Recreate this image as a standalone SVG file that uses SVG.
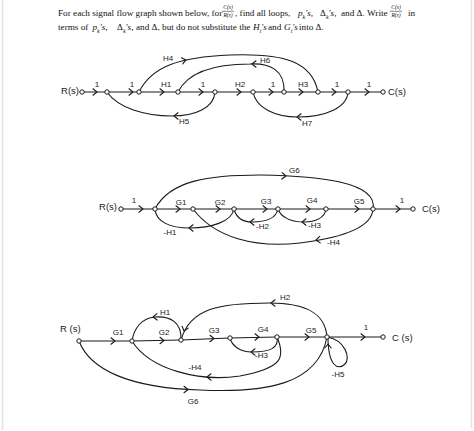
<svg xmlns="http://www.w3.org/2000/svg" width="474" height="431" viewBox="0 0 474 431">
<style>
.ln{fill:none;stroke:#1a1a1a;stroke-width:1.1;stroke-linecap:round;stroke-linejoin:round}
.nd{fill:#fff;stroke:#1a1a1a;stroke-width:1}
.lb{font-family:"Liberation Sans",Arial,sans-serif;font-size:8px;fill:#1a1a1a}
.io{font-family:"Liberation Sans",Arial,sans-serif;font-size:9.5px;fill:#1a1a1a}
.hd{font-family:"Liberation Serif","Times New Roman",serif;font-size:9.2px;fill:#111}
.fr{font-family:"Liberation Serif","Times New Roman",serif;font-size:5.5px;fill:#111;font-style:italic}
.it{font-style:italic}
.bd{stroke:#e3e3e3;stroke-width:1.5}
</style>
<defs>
<path id="ar" d="M-4,-3.2 L0,0 L-4,3.2" fill="none" stroke="#1a1a1a" stroke-width="1.1" stroke-linecap="round" stroke-linejoin="round"/>
</defs>
<rect width="474" height="431" fill="#fff"/>
<line class="bd" x1="2.5" y1="0" x2="2.5" y2="430"/>
<line class="bd" x1="471.5" y1="0" x2="471.5" y2="428"/>

<g id="header">
<text class="hd" x="58" y="16">For each signal flow graph shown below, for</text>
<text class="fr" x="228" y="9" text-anchor="middle">C(s)</text>
<line x1="222" y1="11.3" x2="234" y2="11.3" stroke="#111" stroke-width="0.5"/>
<text class="fr" x="228" y="17" text-anchor="middle">R(s)</text>
<text class="hd" x="235" y="16">, find all loops,</text>
<text class="hd" x="298" y="16"><tspan class="it">p</tspan><tspan font-size="6" class="it" dy="2.5">k</tspan><tspan class="it" dy="-2.5">'s,</tspan></text>
<text class="hd" x="320" y="16">Δ<tspan font-size="6" class="it" dy="2.5">k</tspan><tspan class="it" dy="-2.5">'s,</tspan></text>
<text class="hd" x="341" y="16">and Δ. Write</text>
<text class="fr" x="396" y="9" text-anchor="middle">C(s)</text>
<line x1="390" y1="11.3" x2="402" y2="11.3" stroke="#111" stroke-width="0.5"/>
<text class="fr" x="396" y="17" text-anchor="middle">R(s)</text>
<text class="hd" x="408" y="16">in</text>
<text class="hd" x="58" y="30">terms of</text>
<text class="hd" x="92.5" y="30"><tspan class="it">p</tspan><tspan font-size="6" class="it" dy="2.5">k</tspan><tspan class="it" dy="-2.5">'s,</tspan></text>
<text class="hd" x="117" y="30">Δ<tspan font-size="6" class="it" dy="2.5">k</tspan><tspan class="it" dy="-2.5">'s,</tspan></text>
<text class="hd" x="136" y="30">and Δ, but do not substitute the</text>
<text class="hd" x="253" y="30"><tspan class="it">H</tspan><tspan font-size="6" class="it" dy="2.5">i</tspan><tspan class="it" dy="-2.5">'s</tspan></text>
<text class="hd" x="268" y="30">and</text>
<text class="hd" x="284" y="30"><tspan class="it">G</tspan><tspan font-size="6" class="it" dy="2.5">i</tspan><tspan class="it" dy="-2.5">'s</tspan></text>
<text class="hd" x="299" y="30">into Δ.</text>
</g>

<!-- ===== Graph 1 ===== -->
<g id="g1-connectors">
<path class="ln" d="M82,92 H383"/>
<use href="#ar" transform="translate(97,92)"/>
<use href="#ar" transform="translate(133,92)"/>
<use href="#ar" transform="translate(164,92)"/>
<use href="#ar" transform="translate(203,92)"/>
<use href="#ar" transform="translate(241,92)"/>
<use href="#ar" transform="translate(273,92)"/>
<use href="#ar" transform="translate(303,92)"/>
<use href="#ar" transform="translate(336,92)"/>
<use href="#ar" transform="translate(369,92)"/>
<text class="lb" x="97" y="87" text-anchor="middle">1</text>
<text class="lb" x="132" y="87" text-anchor="middle">1</text>
<text class="lb" x="166" y="87" text-anchor="middle">H1</text>
<text class="lb" x="203" y="87" text-anchor="middle">1</text>
<text class="lb" x="240" y="87" text-anchor="middle">H2</text>
<text class="lb" x="273" y="87" text-anchor="middle">1</text>
<text class="lb" x="303" y="87" text-anchor="middle">H3</text>
<text class="lb" x="337" y="87" text-anchor="middle">1</text>
<text class="lb" x="369" y="87" text-anchor="middle">1</text>
<path class="ln" d="M139,92 C152,66 180,57 230,55 C285,53 312,62 318,92"/>
<use href="#ar" transform="translate(186,60) rotate(-12)"/>
<text class="lb" x="168" y="61" text-anchor="middle">H4</text>
<path class="ln" d="M284,92 C285,70 270,63 250,64 C215,64 188,72 178,92"/>
<use href="#ar" transform="translate(252,64) rotate(180)"/>
<text class="lb" x="265" y="63" text-anchor="middle">H6</text>
<path class="ln" d="M215,92 C214,108 195,116 172,116 C145,116 118,108 107,92"/>
<use href="#ar" transform="translate(174,116) rotate(180)"/>
<text class="lb" x="184" y="124" text-anchor="middle">H5</text>
<path class="ln" d="M348,92 C347,108 325,117 298,117 C275,117 256,108 253,92"/>
<use href="#ar" transform="translate(297,117) rotate(180)"/>
<text class="lb" x="307" y="126" text-anchor="middle">H7</text>
</g>
<g id="g1-R"><circle class="nd" cx="82" cy="92" r="2.2"/><text class="io" x="79" y="94" text-anchor="end">R(s)</text></g>
<g id="g1-n1"><circle class="nd" cx="107" cy="92" r="2.2"/></g>
<g id="g1-n2"><circle class="nd" cx="139" cy="92" r="2.2"/></g>
<g id="g1-n3"><circle class="nd" cx="178" cy="92" r="2.2"/></g>
<g id="g1-n4"><circle class="nd" cx="215" cy="92" r="2.2"/></g>
<g id="g1-n5"><circle class="nd" cx="253" cy="92" r="2.2"/></g>
<g id="g1-n6"><circle class="nd" cx="284" cy="92" r="2.2"/></g>
<g id="g1-n7"><circle class="nd" cx="318" cy="92" r="2.2"/></g>
<g id="g1-n8"><circle class="nd" cx="348" cy="92" r="2.2"/></g>
<g id="g1-C"><circle class="nd" cx="383" cy="92" r="2.2"/><text class="io" x="388" y="95">C(s)</text></g>

<!-- ===== Graph 2 ===== -->
<g id="g2-connectors">
<path class="ln" d="M121,209 H413"/>
<use href="#ar" transform="translate(143,209)"/>
<use href="#ar" transform="translate(180,209)"/>
<use href="#ar" transform="translate(220,209)"/>
<use href="#ar" transform="translate(267,209)"/>
<use href="#ar" transform="translate(310,209)"/>
<use href="#ar" transform="translate(359,209)"/>
<use href="#ar" transform="translate(400,209)"/>
<text class="lb" x="134" y="203" text-anchor="middle">1</text>
<text class="lb" x="181" y="205" text-anchor="middle">G1</text>
<text class="lb" x="220" y="205" text-anchor="middle">G2</text>
<text class="lb" x="266" y="204" text-anchor="middle">G3</text>
<text class="lb" x="312" y="203" text-anchor="middle">G4</text>
<text class="lb" x="359" y="204" text-anchor="middle">G5</text>
<text class="lb" x="402" y="203" text-anchor="middle">1</text>
<path class="ln" d="M155,209 C170,180 210,175 260,175 C320,176 378,182 373,209"/>
<use href="#ar" transform="translate(286,176) rotate(2)"/>
<text class="lb" x="289" y="173">G6</text>
<path class="ln" d="M234,209 C232,222 210,228 190,228 C170,228 156,222 155,209"/>
<use href="#ar" transform="translate(189,228) rotate(180)"/>
<text class="lb" x="170" y="235" text-anchor="middle">-H1</text>
<path class="ln" d="M278,209 C276,219 265,222 252,222 C242,222 236,217 234,209"/>
<use href="#ar" transform="translate(250,222) rotate(180)"/>
<text class="lb" x="256" y="229">-H2</text>
<path class="ln" d="M326,209 C325,218 315,222 304,222 C292,222 281,218 278,209"/>
<use href="#ar" transform="translate(302,222) rotate(180)"/>
<text class="lb" x="308" y="228">-H3</text>
<path class="ln" d="M373,209 C372,228 340,238 300,243 C255,248 215,238 193,209"/>
<use href="#ar" transform="translate(316,240) rotate(175)"/>
<text class="lb" x="327" y="245">-H4</text>
</g>
<g id="g2-R"><circle class="nd" cx="121" cy="209" r="2.2"/><text class="io" x="117" y="210" text-anchor="end">R(s)</text></g>
<g id="g2-n1"><circle class="nd" cx="155" cy="209" r="2.2"/></g>
<g id="g2-n2"><circle class="nd" cx="193" cy="209" r="2.2"/></g>
<g id="g2-n3"><circle class="nd" cx="234" cy="209" r="2.2"/></g>
<g id="g2-n4"><circle class="nd" cx="278" cy="209" r="2.2"/></g>
<g id="g2-n5"><circle class="nd" cx="326" cy="209" r="2.2"/></g>
<g id="g2-n6"><circle class="nd" cx="373" cy="209" r="2.2"/></g>
<g id="g2-C"><circle class="nd" cx="413" cy="209" r="2.2"/><text class="io" x="422" y="212">C(s)</text></g>

<!-- ===== Graph 3 ===== -->
<g id="g3-connectors">
<path class="ln" d="M79,341 L132,341 L181,340 L230,338 L277,337 L383,337"/>
<use href="#ar" transform="translate(115,341)"/>
<use href="#ar" transform="translate(164,340.5)"/>
<use href="#ar" transform="translate(214,338.5)"/>
<use href="#ar" transform="translate(259,337)"/>
<use href="#ar" transform="translate(309,337)"/>
<use href="#ar" transform="translate(365,337)"/>
<text class="lb" x="118" y="335" text-anchor="middle">G1</text>
<text class="lb" x="164" y="335" text-anchor="middle">G2</text>
<text class="lb" x="214" y="333" text-anchor="middle">G3</text>
<text class="lb" x="263" y="332" text-anchor="middle">G4</text>
<text class="lb" x="311" y="333" text-anchor="middle">G5</text>
<text class="lb" x="366" y="330" text-anchor="middle">1</text>
<path class="ln" d="M181,340 C182,322 170,316 155,317 C142,318 134,328 132,341"/>
<use href="#ar" transform="translate(153,317) rotate(178)"/>
<text class="lb" x="165" y="315" text-anchor="middle">H1</text>
<path class="ln" d="M327,337 C325,310 300,303 270,303 C220,303 190,308 181,340"/>
<use href="#ar" transform="translate(271,303) rotate(180)"/>
<use href="#ar" transform="translate(184,331) rotate(107)"/>
<text class="lb" x="285" y="300" text-anchor="middle">H2</text>
<path class="ln" d="M277,337 C279,348 270,352 252,352 C240,352 232,346 230,338"/>
<use href="#ar" transform="translate(251,352) rotate(180)"/>
<text class="lb" x="255" y="358">-H3</text>
<path class="ln" d="M277,337 C286,358 282,368 240,376 C200,382 150,370 132,341"/>
<use href="#ar" transform="translate(207,377) rotate(180)"/>
<text class="lb" x="195" y="370" text-anchor="middle">-H4</text>
<path class="ln" d="M79,341 C90,370 130,388 200,390 C265,393 318,385 327,337"/>
<use href="#ar" transform="translate(188,389.5)"/>
<text class="lb" x="193" y="404" text-anchor="middle">G6</text>
<path class="ln" d="M327,337 C345,340 351,358 345,364 C338,371 328,366 328,337"/>
<use href="#ar" transform="translate(328,344) rotate(-90)"/>
<text class="lb" x="338" y="377" text-anchor="middle">-H5</text>
</g>
<g id="g3-R"><circle class="nd" cx="79" cy="341" r="2.2"/><text class="io" x="60" y="332">R (s)</text></g>
<g id="g3-n1"><circle class="nd" cx="132" cy="341" r="2.2"/></g>
<g id="g3-n2"><circle class="nd" cx="181" cy="340" r="2.2"/></g>
<g id="g3-n3"><circle class="nd" cx="230" cy="338" r="2.2"/></g>
<g id="g3-n4"><circle class="nd" cx="277" cy="337" r="2.2"/></g>
<g id="g3-n5"><circle class="nd" cx="327" cy="337" r="2.2"/></g>
<g id="g3-C"><circle class="nd" cx="383" cy="337" r="2.2"/><text class="io" x="392" y="341">C (s)</text></g>
</svg>
